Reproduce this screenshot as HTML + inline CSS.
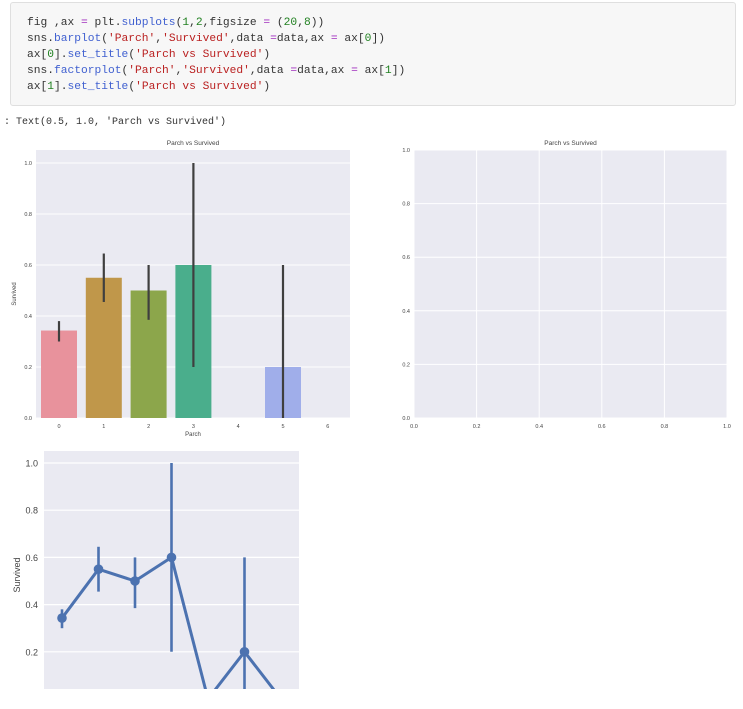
<!DOCTYPE html>
<html><head><meta charset="utf-8"><style>
body{margin:0;background:#fff;width:743px;height:709px;overflow:hidden;position:relative;font-family:"Liberation Sans",sans-serif}
#cell{position:absolute;left:10px;top:2px;width:726px;height:104px;background:#f7f7f7;border:1px solid #dfdfdf;border-radius:3px;box-sizing:border-box}
#code{position:absolute;left:27px;top:15px;margin:0;font:11.25px/16px "Liberation Mono",monospace;color:#333}
.f{color:#4060d0}.s{color:#ba2121}.n{color:#208020}.o{color:#a22fbf}
#out{position:absolute;left:4px;top:117px;font:10px "Liberation Mono",monospace;color:#333;white-space:pre}
svg{position:absolute;left:0;top:0}
</style></head><body>
<div id="cell"></div>
<pre id="code">fig ,ax <span class="o">=</span> plt.<span class="f">subplots</span>(<span class="n">1</span>,<span class="n">2</span>,figsize <span class="o">=</span> (<span class="n">20</span>,<span class="n">8</span>))
sns.<span class="f">barplot</span>(<span class="s">'Parch'</span>,<span class="s">'Survived'</span>,data <span class="o">=</span>data,ax <span class="o">=</span> ax[<span class="n">0</span>])
ax[<span class="n">0</span>].<span class="f">set_title</span>(<span class="s">'Parch vs Survived'</span>)
sns.<span class="f">factorplot</span>(<span class="s">'Parch'</span>,<span class="s">'Survived'</span>,data <span class="o">=</span>data,ax <span class="o">=</span> ax[<span class="n">1</span>])
ax[<span class="n">1</span>].<span class="f">set_title</span>(<span class="s">'Parch vs Survived'</span>)</pre>
<div id="out">: Text(0.5, 1.0, 'Parch vs Survived')</div>
<svg id="svg" width="743" height="709" xmlns="http://www.w3.org/2000/svg"></svg>
<script>
const categories=["0","1","2","3","4","5","6"];
const survived=[0.343,0.55,0.5,0.6,null,0.2,null];
const ciLow=[0.30,0.455,0.385,0.2,null,0,null];
const ciHigh=[0.38,0.645,0.60,1.0,null,0.6,null];
const pointVals=[0.343,0.55,0.5,0.6,0,0.2,0];
const barColors=["#e8929c","#c0974a","#8ca64b","#4aae8c","#4aa8c8","#a0aeea","#e58fd0"];
const yTicks=[0,0.2,0.4,0.6,0.8,1.0];
const yTickLabels=["0.0","0.2","0.4","0.6","0.8","1.0"];
const xTicks2=[0,0.2,0.4,0.6,0.8,1.0];
const xTickLabels2=["0.0","0.2","0.4","0.6","0.8","1.0"];

const svg=document.getElementById('svg');
const NS="http://www.w3.org/2000/svg";
function mk(tag,attrs,parent){const e=document.createElementNS(NS,tag);for(const k in attrs)e.setAttribute(k,attrs[k]);(parent||svg).appendChild(e);return e;}
function txt(x,y,s,size,anchor,parent,extra){const t=mk('text',Object.assign({x:x,y:y,'font-size':size,'text-anchor':anchor||'middle',fill:'#444','font-family':'Liberation Sans, sans-serif'},extra||{}),parent);t.textContent=s;return t;}

// Chart 1: barplot
const g1=mk('g',{});


const L1=36,R1=350,T1=150,B1=418;
const y1=v=>418-v*255;
const x1=i=>59+i*44.8;
const bg1=mk('rect',{x:L1,y:T1,width:R1-L1,height:B1-T1,fill:'#eaeaf2'},g1);


yTicks.forEach((v,i)=>{
  const l=mk('line',{x1:L1,x2:R1,y1:y1(v),y2:y1(v),stroke:'#fff','stroke-width':1},g1);
  
  
  const t=txt(L1-4,y1(v)+2,yTickLabels[i],5.5,'end',g1);
  
  
});
categories.forEach((c,i)=>{
  const t=txt(x1(i),428,c,5.5,'middle',g1);
  
  
  if(survived[i]!==null){
    const r=mk('rect',{x:x1(i)-18,y:y1(survived[i]),width:36,height:y1(0)-y1(survived[i]),fill:barColors[i]},g1);
    
    
    const e=mk('line',{x1:x1(i),x2:x1(i),y1:y1(ciLow[i]),y2:y1(ciHigh[i]),stroke:'#3f3f3f','stroke-width':2.2},g1);
    
    
  }
});
let t=txt((L1+R1)/2,145,'Parch vs Survived',6.5,'middle',g1);


t=txt((L1+R1)/2,436,'Parch',6,'middle',g1);


t=txt(16,294,'Survived',6,'middle',g1,{transform:'rotate(-90 16 294)'});



// Chart 2: empty axes
const g2=mk('g',{});


const L2=414,R2=727,T2=150,B2=418;
const y2=v=>B2-v*(B2-T2);
const x2=v=>L2+v*(R2-L2);
const bg2=mk('rect',{x:L2,y:T2,width:R2-L2,height:B2-T2,fill:'#eaeaf2'},g2);


yTicks.forEach((v,i)=>{
  const l=mk('line',{x1:L2,x2:R2,y1:y2(v),y2:y2(v),stroke:'#fff','stroke-width':1},g2);
  
  
  const tt=txt(L2-4,y2(v)+2,yTickLabels[i],5.5,'end',g2);
  
  
});
xTicks2.forEach((v,i)=>{
  const l=mk('line',{x1:x2(v),x2:x2(v),y1:T2,y2:B2,stroke:'#fff','stroke-width':1},g2);
  
  
  const tt=txt(x2(v),428,xTickLabels2[i],5.5,'middle',g2);
  
  
});
t=txt((L2+R2)/2,145,'Parch vs Survived',6.5,'middle',g2);



// Chart 3: pointplot
const g3=mk('g',{});


const L3=44,R3=299,T3=451,B3=689;
const y3=v=>699-v*236;
const x3=i=>62+i*36.5;
const defs=mk('defs',{});
const cp=mk('clipPath',{id:'c3'},defs);
mk('rect',{x:L3,y:T3,width:R3-L3,height:B3-T3},cp);
const bg3=mk('rect',{x:L3,y:T3,width:R3-L3,height:B3-T3,fill:'#eaeaf2'},g3);


const pg=mk('g',{'clip-path':'url(#c3)'},g3);
yTicks.forEach((v,i)=>{
  if(v===0)return;
  const l=mk('line',{x1:L3,x2:R3,y1:y3(v),y2:y3(v),stroke:'#fff','stroke-width':1.2},pg);
  
  
  const tt=txt(L3-6,y3(v)+3.5,yTickLabels[i],9,'end',g3);
  
  
});
const pts=pointVals.map((v,i)=>x3(i)+','+y3(v)).join(' ');
const pl=mk('polyline',{points:pts,fill:'none',stroke:'#4c72b0','stroke-width':3,'stroke-linejoin':'round'},pg);


categories.forEach((c,i)=>{
  if(ciLow[i]!==null){
    const e=mk('line',{x1:x3(i),x2:x3(i),y1:y3(ciLow[i]),y2:y3(ciHigh[i]),stroke:'#4c72b0','stroke-width':2.6},pg);
    
    
  }
  const p=mk('circle',{cx:x3(i),cy:y3(pointVals[i]),r:4.8,fill:'#4c72b0'},pg);
  
  
});
t=txt(20,575,'Survived',9,'middle',g3,{transform:'rotate(-90 20 575)'});


</script>
</body></html>
